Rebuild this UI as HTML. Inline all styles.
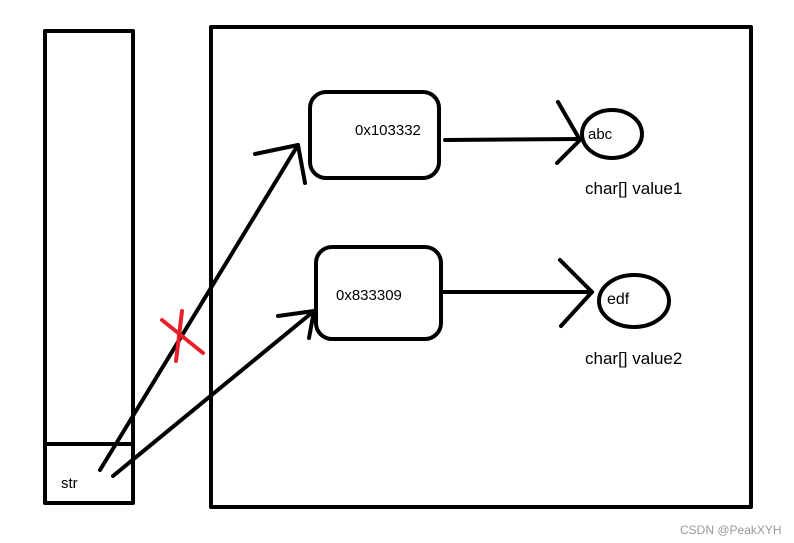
<!DOCTYPE html>
<html><head><meta charset="utf-8"><style>
html,body{margin:0;padding:0;background:#fff;width:794px;height:543px;overflow:hidden}
text{font-family:"Liberation Sans",sans-serif;fill:#000}
</style></head><body>
<svg width="794" height="543" viewBox="0 0 794 543" xmlns="http://www.w3.org/2000/svg">
<g fill="none" stroke="#000" stroke-width="4" stroke-linecap="round" stroke-linejoin="round">
<rect x="45" y="31" width="88" height="472" stroke-linecap="butt"/>
<line x1="45" y1="444" x2="133" y2="444"/>
<rect x="211" y="27" width="540" height="480"/>
<rect x="310" y="92" width="129" height="86" rx="16"/>
<rect x="316" y="247" width="125" height="92" rx="16"/>
<line x1="100" y1="470" x2="298" y2="145"/>
<polyline points="255,154 298,145 305,183"/>
<line x1="113" y1="476" x2="314" y2="311"/>
<polyline points="278,316 314,311 309,338"/>
<line x1="445" y1="140" x2="580" y2="139"/>
<polyline points="558,102 580,140 557,163"/>
<ellipse cx="612" cy="134" rx="30" ry="24"/>
<line x1="443" y1="292" x2="592" y2="292"/>
<polyline points="560,260 592,292 561,326"/>
<ellipse cx="634" cy="301" rx="35" ry="26"/>
</g>
<g stroke="#e8202a" stroke-width="4" stroke-linecap="round">
<line x1="162" y1="320" x2="203" y2="353"/>
<line x1="182" y1="311" x2="176" y2="361"/>
</g>
<text x="355" y="135" font-size="15">0x103332</text>
<text x="336" y="300" font-size="15">0x833309</text>
<text x="588" y="139" font-size="15">abc</text>
<text x="607" y="304" font-size="16">edf</text>
<text x="585" y="194" font-size="17">char[] value1</text>
<text x="585" y="364" font-size="17">char[] value2</text>
<text x="61" y="488" font-size="15">str</text>
<text x="680" y="534" font-size="12" style="fill:#999">CSDN @PeakXYH</text>
</svg>
</body></html>
